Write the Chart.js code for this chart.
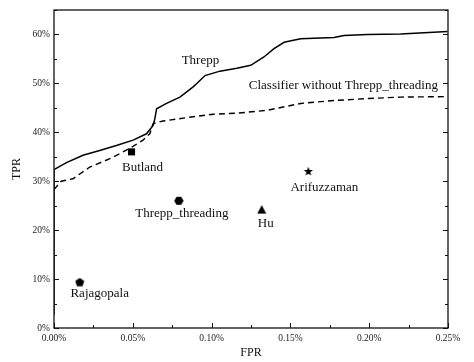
<!DOCTYPE html>
<html>
<head>
<meta charset="utf-8">
<script src="https://cdn.jsdelivr.net/npm/chart.js@4.4.0/dist/chart.umd.min.js"></script>
<style>
  html, body { margin: 0; padding: 0; background: #fff; }
  #wrap { width: 474px; height: 362px; }
</style>
</head>
<body>
<div id="wrap"><canvas id="roc"></canvas></div>
<script>
// ROC curves (FPR in %, TPR in %)
const threppFpr = [0, 0, 0.0079, 0.0184, 0.029, 0.0396, 0.0502, 0.0587, 0.0629, 0.064, 0.0651, 0.0714, 0.0799, 0.0883, 0.0926, 0.0958, 0.1053, 0.1160, 0.1248, 0.1332, 0.1396, 0.146, 0.1565, 0.1777, 0.184, 0.1989, 0.22, 0.2497];
const threppTpr = [2.7, 32.4, 33.8, 35.3, 36.3, 37.3, 38.4, 39.7, 41.4, 42.8, 44.8, 45.9, 47.2, 49.3, 50.6, 51.6, 52.5, 53.1, 53.7, 55.4, 57.1, 58.4, 59.1, 59.4, 59.8, 60.0, 60.1, 60.6];

const noThreadFpr = [0, 0.0045, 0.012, 0.0227, 0.0354, 0.048, 0.0565, 0.0608, 0.0629, 0.0692, 0.0841, 0.101, 0.1160, 0.1353, 0.1565, 0.1777, 0.1989, 0.22, 0.2497];
const noThreadTpr = [28.3, 30.0, 30.5, 32.9, 34.6, 36.7, 38.4, 39.7, 41.8, 42.3, 43.0, 43.7, 43.9, 44.5, 45.9, 46.5, 46.9, 47.2, 47.3];

// other methods (single operating points)
const methodNames = ['Butland', 'Threpp_threading', 'Rajagopala', 'Hu', 'Arifuzzaman'];
const methodFpr = [0.0492, 0.0792, 0.0163, 0.1318, 0.1614];
const methodTpr = [36.0, 26.0, 9.3, 24.2, 32.1];

const xTicks = [0, 0.05, 0.10, 0.15, 0.20, 0.25];
const yTicks = [0, 10, 20, 30, 40, 50, 60];

const SERIF = '"Liberation Serif", "DejaVu Serif", serif';

function makeShape(kind, size) {
    const c = document.createElement('canvas');
    c.width = size; c.height = size;
    const g = c.getContext('2d');
    const r = size / 2;
    g.fillStyle = '#000';
    g.beginPath();
    if (kind === 'hex' || kind === 'pent') {
        const n = kind === 'hex' ? 6 : 5;
        for (let i = 0; i < n; i++) {
            const a = -Math.PI / 2 + i * 2 * Math.PI / n + (kind === 'hex' ? Math.PI / 6 : 0);
            const px = r + (r - 0.3) * Math.cos(a), py = r + (r - 0.3) * Math.sin(a);
            if (i === 0) g.moveTo(px, py); else g.lineTo(px, py);
        }
    } else if (kind === 'star') {
        for (let i = 0; i < 10; i++) {
            const a = -Math.PI / 2 + i * Math.PI / 5;
            const rr = i % 2 ? r * 0.42 : r - 0.2;
            const px = r + rr * Math.cos(a), py = r + 0.6 + rr * Math.sin(a);
            if (i === 0) g.moveTo(px, py); else g.lineTo(px, py);
        }
    } else if (kind === 'tri') {
        g.moveTo(r, 0.5); g.lineTo(size - 0.5, size - 1); g.lineTo(0.5, size - 1);
    }
    g.closePath();
    g.fill();
    return c;
}

const methodStyles = ['rect', makeShape('hex', 10), makeShape('pent', 10), makeShape('tri', 10), makeShape('star', 10)];
const methodRadius = [5, 5, 5, 5, 5];
// label offset below each marker, in px
const methodLabelDx = [11, 3, 20, 4, 16];
const methodLabelDy = [16, 13, 11, 14, 17];

const curveLabels = [
    { text: 'Threpp', x: 0.0929, y: 54.7 },
    { text: 'Classifier without Threpp_threading', x: 0.1836, y: 49.6 }
];

function toPoints(xs, ys) {
    return xs.map((x, i) => ({ x: x, y: ys[i] }));
}

// frame, inward tick marks and text labels
const decorPlugin = {
    id: 'decor',
    afterDraw(chart) {
        const ctx = chart.ctx;
        const a = chart.chartArea;
        const xs = chart.scales.x, ys = chart.scales.y;
        ctx.save();
        ctx.strokeStyle = '#111';
        ctx.lineWidth = 1.3;
        ctx.strokeRect(a.left, a.top, a.right - a.left, a.bottom - a.top);
        ctx.lineWidth = 1;
        ctx.beginPath();
        for (let v = 0; v <= 0.25001; v += 0.025) {
            const px = Math.round(xs.getPixelForValue(v)) + 0.5;
            const major = Math.abs(v / 0.05 - Math.round(v / 0.05)) < 1e-6;
            ctx.moveTo(px, a.bottom);
            ctx.lineTo(px, a.bottom - (major ? 5 : 3));
        }
        for (let v = 0; v <= 65; v += 5) {
            const py = Math.round(ys.getPixelForValue(v)) + 0.5;
            const major = v % 10 === 0;
            ctx.moveTo(a.left, py);
            ctx.lineTo(a.left + (major ? 5 : 3), py);
            ctx.moveTo(a.right, py);
            ctx.lineTo(a.right - (major ? 5 : 3), py);
        }
        ctx.stroke();

        ctx.fillStyle = '#111';
        ctx.font = '13px ' + SERIF;
        ctx.textAlign = 'center';
        ctx.textBaseline = 'middle';
        methodNames.forEach((name, i) => {
            const px = xs.getPixelForValue(methodFpr[i]);
            const py = ys.getPixelForValue(methodTpr[i]);
            ctx.fillText(name, px + methodLabelDx[i], py + methodLabelDy[i]);
        });
        curveLabels.forEach(l => {
            ctx.fillText(l.text, xs.getPixelForValue(l.x), ys.getPixelForValue(l.y));
        });
        ctx.restore();
    }
};

const datasets = [
    {
        label: 'Threpp',
        data: toPoints(threppFpr, threppTpr),
        showLine: true,
        borderColor: '#000',
        borderWidth: 1.5,
        pointRadius: 0,
        tension: 0
    },
    {
        label: 'Classifier without Threpp_threading',
        data: toPoints(noThreadFpr, noThreadTpr),
        showLine: true,
        borderColor: '#000',
        borderWidth: 1.4,
        borderDash: [6, 4],
        pointRadius: 0,
        tension: 0
    }
];

methodNames.forEach((name, i) => {
    datasets.push({
        label: name,
        data: [{ x: methodFpr[i], y: methodTpr[i] }],
        showLine: false,
        pointStyle: methodStyles[i],
        pointRadius: methodRadius[i],
        backgroundColor: '#000',
        borderColor: '#000',
        borderWidth: 0
    });
});

new Chart(document.getElementById('roc'), {
    type: 'scatter',
    data: { datasets: datasets },
    plugins: [decorPlugin],
    options: {
        responsive: true,
        maintainAspectRatio: false,
        animation: false,
        layout: { padding: { left: 0, top: 10, right: 26, bottom: 0 } },
        plugins: {
            legend: { display: false },
            tooltip: { enabled: false }
        },
        scales: {
            x: {
                type: 'linear',
                min: 0,
                max: 0.25,
                afterBuildTicks: s => { s.ticks = xTicks.map(v => ({ value: v })); },
                afterFit: s => { s.height = 34; },
                grid: { display: false, drawTicks: false },
                border: { display: false },
                ticks: {
                    padding: 5,
                    color: '#222',
                    font: { family: SERIF, size: 9.5 },
                    maxRotation: 0,
                    callback: v => v.toFixed(2) + '%'
                },
                title: {
                    display: true,
                    text: 'FPR',
                    color: '#111',
                    font: { family: SERIF, size: 12 },
                    padding: { top: 0, bottom: 2 }
                }
            },
            y: {
                type: 'linear',
                min: 0,
                max: 65,
                afterBuildTicks: s => { s.ticks = yTicks.map(v => ({ value: v })); },
                afterFit: s => { s.width = 54; },
                grid: { display: false, drawTicks: false },
                border: { display: false },
                ticks: {
                    padding: 4,
                    color: '#222',
                    font: { family: SERIF, size: 9.5 },
                    callback: v => v + '%'
                },
                title: {
                    display: true,
                    text: 'TPR',
                    color: '#111',
                    font: { family: SERIF, size: 12 },
                    padding: { top: 10, bottom: 0 }
                }
            }
        }
    }
});
</script>
</body>
</html>
